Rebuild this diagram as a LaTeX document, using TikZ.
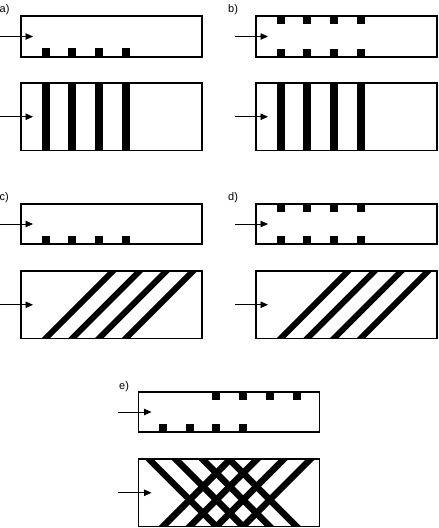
\documentclass[tikz,border=0pt]{standalone}
\usepackage{fontspec}
\setmainfont{Liberation Sans}
\usetikzlibrary{arrows.meta}
\tikzset{
  frame/.style={draw, line width=1.6pt, anchor=north west, minimum width=181pt, inner sep=0pt, outer sep=0pt},
  topbox/.style={frame, minimum height=41pt},
  botbox/.style={frame, minimum height=67.5pt},
  border/.style={line width=1.6pt},
  diag/.style={line width=6pt, line cap=butt},
  feed/.style={line width=0.8pt, -{Triangle[length=7.5pt,width=6.5pt]}},
  lab/.style={font=\fontsize{11}{12}\selectfont, inner sep=0pt, anchor=west}
}
\begin{document}
\begin{tikzpicture}[x=1pt,y=-1pt]
\useasboundingbox (0,0) rectangle (439,528);

% labels
\node[lab] (la) at (-0.5,10) {a)};
\node[lab] (lb) at (228,10) {b)};
\node[lab] (lc) at (-0.5,198) {c)};
\node[lab] (ld) at (228,198) {d)};
\node[lab] (le) at (119,387) {e)};

% ---------- panel a ----------
\node[topbox] (aT) at (21,16) {};
\node[botbox] (aB) at (21,83) {};
\foreach \k in {0,...,3} {
  \fill ({21+20.5+26.7*\k},57) rectangle ++(8,-9);
  \fill ({21+20.5+26.7*\k},83) rectangle ++(8,68);
}
\draw[feed] ([xshift=-22pt]aT.west) -- ([xshift=12pt]aT.west);
\draw[feed] ([xshift=-22pt]aB.west) -- ([xshift=12pt]aB.west);

% ---------- panel b ----------
\node[topbox] (bT) at (256,16) {};
\node[botbox] (bB) at (256,83) {};
\foreach \k in {0,...,3} {
  \fill ({256+20.5+26.7*\k},57) rectangle ++(8,-8);
  \fill ({256+20.5+26.7*\k},16) rectangle ++(8,8);
  \fill ({256+20.5+26.7*\k},83) rectangle ++(8,68);
}
\draw[feed] ([xshift=-21pt]bT.west) -- ([xshift=12pt]bT.west);
\draw[feed] ([xshift=-21pt]bB.west) -- ([xshift=12pt]bB.west);

% ---------- panel c ----------
\node[topbox, minimum height=40pt] (cT) at (21,204) {};
\node[botbox] (cB) at (21,271) {};
\foreach \k in {0,...,3} {
  \fill ({21+20.5+26.7*\k},244) rectangle ++(8,-8);
}
\begin{scope}
  \clip (cB.south west) rectangle (cB.north east);
  \foreach \k in {0,...,3}
    \draw[diag] ({21+24.5+26.7*\k-6},{338.5+6}) -- ++(85,-85);
\end{scope}
\draw[border] (cB.south west) rectangle (cB.north east);
\draw[feed] ([xshift=-22pt]cT.west) -- ([xshift=12pt]cT.west);
\draw[feed] ([xshift=-22pt]cB.west) -- ([xshift=12pt]cB.west);

% ---------- panel d ----------
\node[topbox, minimum height=40pt] (dT) at (256,204) {};
\node[botbox] (dB) at (256,271) {};
\foreach \k in {0,...,3} {
  \fill ({256+20.5+26.7*\k},244) rectangle ++(8,-8);
  \fill ({256+20.5+26.7*\k},204) rectangle ++(8,8);
}
\begin{scope}
  \clip (dB.south west) rectangle (dB.north east);
  \foreach \k in {0,...,3}
    \draw[diag] ({256+24.5+26.7*\k-6},{338.5+6}) -- ++(85,-85);
\end{scope}
\draw[border] (dB.south west) rectangle (dB.north east);
\draw[feed] ([xshift=-21pt]dT.west) -- ([xshift=12pt]dT.west);
\draw[feed] ([xshift=-21pt]dB.west) -- ([xshift=12pt]dB.west);

% ---------- panel e ----------
\node[topbox, minimum height=40pt] (eT) at (138.5,392) {};
\node[botbox] (eB) at (138.5,459) {};
\foreach \k in {0,...,3} {
  \fill ({138.5+20.5+26.7*\k},432) rectangle ++(8,-8);
  \fill ({138.5+20.5+26.7*(\k+2)},392) rectangle ++(8,8);
}
\begin{scope}
  \clip (eB.south west) rectangle (eB.north east);
  \foreach \k in {0,...,3} {
    \draw[diag, line width=6.5pt] ({138.5+24.5+26.7*\k-6},{526.5+6}) -- ++(85,-85);
    \draw[diag, line width=6.5pt] ({138.5+24.5+26.7*(\k+2)+6},{526.5+6}) -- ++(-85,-85);
  }
\end{scope}
\draw[border] (eB.south west) rectangle (eB.north east);
\draw[feed] ([xshift=-21pt]eT.west) -- ([xshift=13pt]eT.west);
\draw[feed] ([xshift=-21pt]eB.west) -- ([xshift=13pt]eB.west);
\end{tikzpicture}
\end{document}
